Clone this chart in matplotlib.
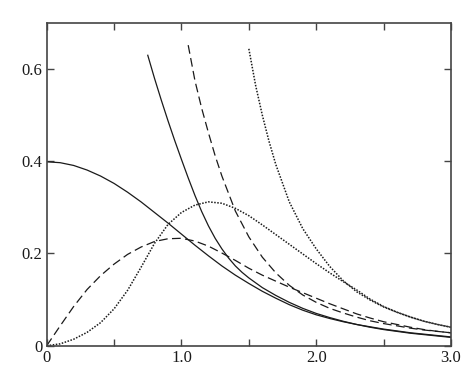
import matplotlib
matplotlib.use("Agg")
import matplotlib.pyplot as plt

# ---------- data ----------
x_bump = [0.0, 0.1, 0.2, 0.3, 0.4, 0.5, 0.6, 0.7, 0.8, 0.9, 1.0,
          1.1, 1.2, 1.3, 1.4, 1.5, 1.6, 1.7, 1.8, 1.9, 2.0,
          2.1, 2.2, 2.3, 2.4, 2.5, 2.6, 2.7, 2.8, 2.9, 3.0]

solid_bump = [0.399, 0.397, 0.391, 0.381, 0.368, 0.352, 0.333, 0.312, 0.289, 0.266, 0.242,
              0.218, 0.195, 0.173, 0.153, 0.135, 0.118, 0.103, 0.089, 0.077, 0.067,
              0.059, 0.052, 0.046, 0.040, 0.035, 0.031, 0.027, 0.024, 0.021, 0.018]

dashed_bump = [0.0, 0.043, 0.085, 0.122, 0.152, 0.177, 0.198, 0.214, 0.226, 0.232, 0.233,
               0.227, 0.216, 0.201, 0.185, 0.168, 0.153, 0.140, 0.127, 0.115, 0.103,
               0.091, 0.080, 0.069, 0.060, 0.052, 0.046, 0.040, 0.035, 0.031, 0.028]

dotted_bump = [0.0, 0.004, 0.014, 0.029, 0.050, 0.080, 0.120, 0.170, 0.222, 0.263, 0.289,
               0.305, 0.312, 0.309, 0.298, 0.282, 0.262, 0.241, 0.220, 0.199, 0.178,
               0.158, 0.139, 0.121, 0.101, 0.085, 0.0725, 0.062, 0.053, 0.046, 0.040]

x_solid_tail = [0.75, 0.8, 0.85, 0.9, 0.95, 1.0, 1.05, 1.1, 1.15, 1.2, 1.25, 1.3, 1.35,
                1.4, 1.45, 1.5, 1.6, 1.7, 1.8, 1.9, 2.0, 2.1, 2.2, 2.3, 2.4, 2.5, 2.6,
                2.7, 2.8, 2.9, 3.0]
solid_tail = [0.630, 0.580, 0.533, 0.488, 0.445, 0.404, 0.364, 0.326, 0.291, 0.260, 0.233,
              0.210, 0.190, 0.173, 0.159, 0.147, 0.126, 0.109, 0.094, 0.081, 0.070,
              0.061, 0.053, 0.046, 0.041, 0.036, 0.032, 0.028, 0.025, 0.022, 0.019]

x_dashed_tail = [1.05, 1.1, 1.15, 1.2, 1.25, 1.3, 1.4, 1.5, 1.6, 1.7, 1.8, 1.9, 2.0,
                 2.1, 2.2, 2.3, 2.4, 2.5, 2.6, 2.7, 2.8, 2.9, 3.0]
dashed_tail = [0.652, 0.575, 0.515, 0.462, 0.412, 0.368, 0.292, 0.236, 0.192, 0.158,
               0.131, 0.110, 0.094, 0.081, 0.071, 0.062, 0.054, 0.048, 0.043, 0.038,
               0.034, 0.031, 0.028]

x_dotted_tail = [1.5, 1.55, 1.6, 1.65, 1.7, 1.8, 1.9, 2.0, 2.1, 2.2, 2.3, 2.4, 2.5,
                 2.6, 2.7, 2.8, 2.9, 3.0]
dotted_tail = [0.644, 0.565, 0.500, 0.443, 0.393, 0.312, 0.254, 0.210, 0.172, 0.141,
               0.117, 0.099, 0.084, 0.0725, 0.062, 0.053, 0.046, 0.040]

x_ticks = [0, 0.5, 1.0, 1.5, 2.0, 2.5, 3.0]
x_labels = ["0", "", "1.0", "", "2.0", "", "3.0"]
y_ticks = [0, 0.2, 0.4, 0.6]
y_labels = ["0", "0.2", "0.4", "0.6"]

# ---------- plot ----------
plt.rcParams['font.family'] = ['Liberation Serif', 'DejaVu Serif']
fig = plt.figure(figsize=(4.74, 3.76), dpi=100)
ax = fig.add_axes([0.0985, 0.0806, 0.853, 0.8582])

ink = "#1a1a1a"
dash = (0, (7, 3.5))
dot = (0, (1, 1))

ax.plot(x_bump, solid_bump, color=ink, lw=0.9, linestyle="-")
ax.plot(x_bump, dashed_bump, color=ink, lw=0.9, linestyle=dash)
ax.plot(x_bump, dotted_bump, color=ink, lw=1.1, linestyle=dot)
ax.plot(x_solid_tail, solid_tail, color=ink, lw=0.9, linestyle="-")
ax.plot(x_dashed_tail, dashed_tail, color=ink, lw=0.9, linestyle=dash)
ax.plot(x_dotted_tail, dotted_tail, color=ink, lw=1.1, linestyle=dot)

ax.set_xlim(0, 3.0)
ax.set_ylim(0, 0.7)
ax.set_xticks(x_ticks)
ax.set_xticklabels(x_labels)
ax.set_yticks(y_ticks)
ax.set_yticklabels(y_labels)
ax.tick_params(direction="in", top=True, right=True, length=5, width=1,
               color="#444444", labelsize=12, labelcolor=ink)
ax.tick_params(axis="x", pad=3)
ax.tick_params(axis="y", pad=3)
for s in ax.spines.values():
    s.set_color("#444444")
    s.set_linewidth(1.2)

fig.savefig("out.png", dpi=100)
